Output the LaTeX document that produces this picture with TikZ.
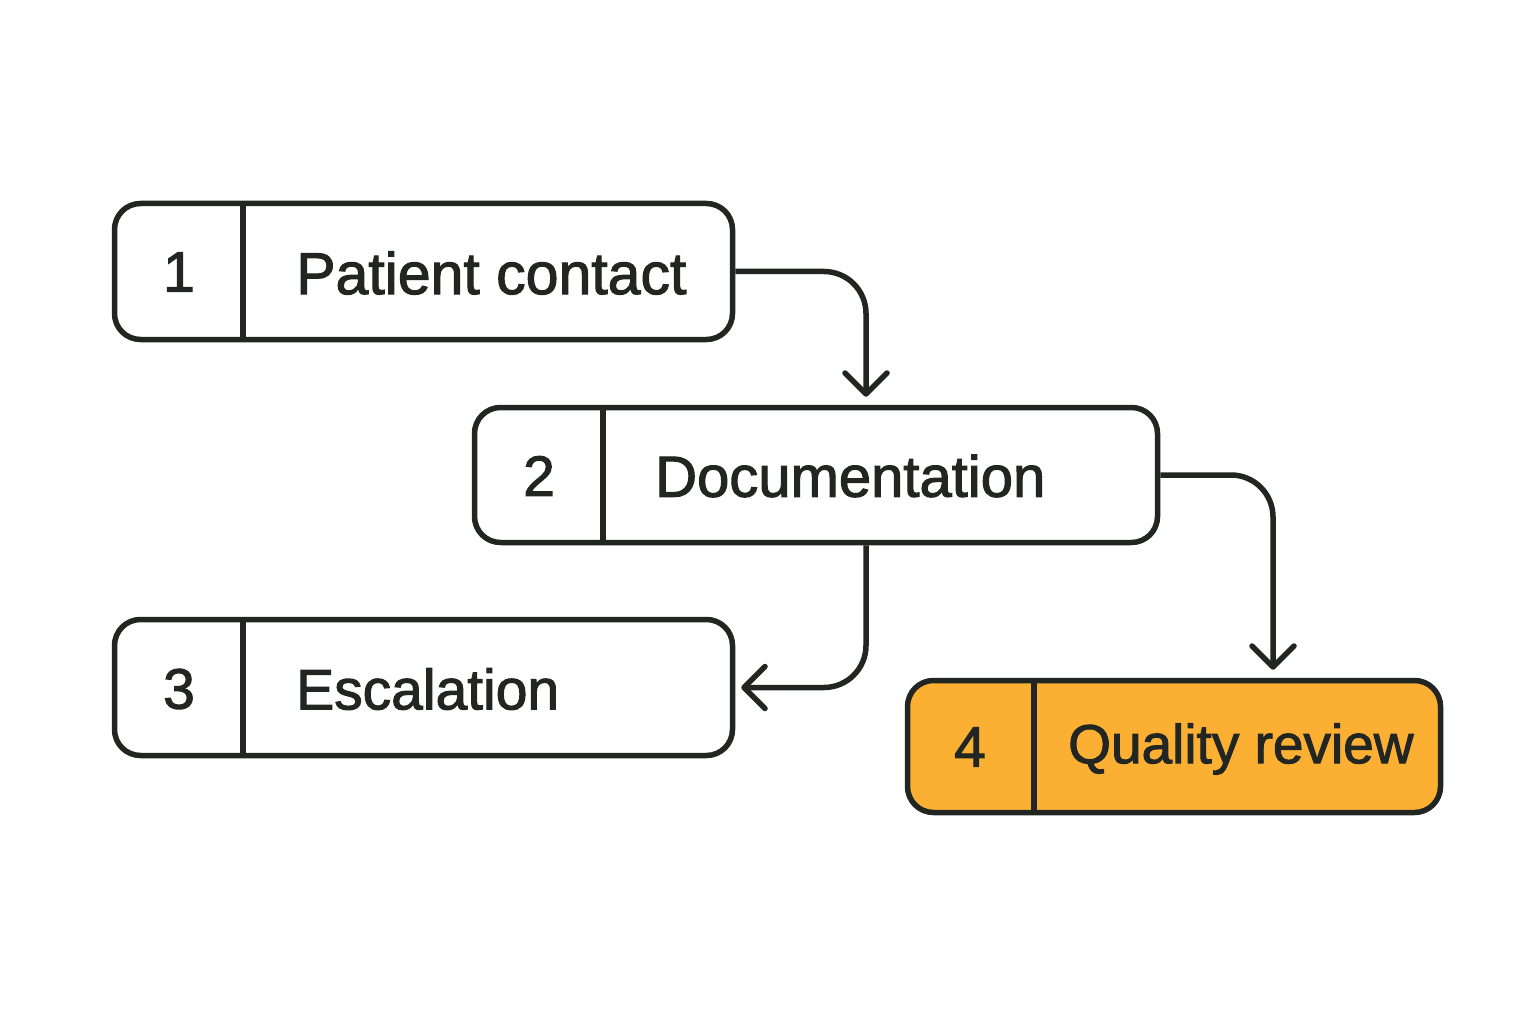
\documentclass[tikz,border=0pt]{standalone}
\usepackage{fontspec}
\setmainfont{Liberation Sans}
\newfontfamily\medfont[FakeBold=1.8]{Liberation Sans}
\usetikzlibrary{arrows.meta}
\definecolor{ink}{HTML}{222622}
\definecolor{amber}{HTML}{FBB034}
\begin{document}
\begin{tikzpicture}[x=1pt,y=-1pt,
  box/.style={draw=ink, line width=5.5pt, rounded corners=26pt, fill=white, inner sep=0pt},
  divider/.style={draw=ink, line width=5.5pt},
  num/.style={text=ink, font=\medfont\fontsize{57}{60}\selectfont, inner sep=0pt},
  lbl/.style={text=ink, inner sep=0pt, anchor=west},
  conn/.style={draw=ink, line width=5.5pt, rounded corners=42pt,
    -{Straight Barb[length=21pt, width=42pt, line cap=round, line join=round]}}
]
\useasboundingbox[fill=white] (0,0) rectangle (1536,1024);

% boxes
\node[box, minimum width=618pt, minimum height=136pt] (b1) at (423.5,271.5) {};
\node[box, minimum width=683pt, minimum height=135pt] (b2) at (816,475) {};
\node[box, minimum width=618pt, minimum height=136pt] (b3) at (423.5,687.5) {};
\node[box, fill=amber, minimum width=533pt, minimum height=132pt] (b4) at (1174,746.5) {};

% dividers
\draw[divider] ([xshift=131]b1.north west) -- ([xshift=131]b1.south west);
\draw[divider] ([xshift=131]b2.north west) -- ([xshift=131]b2.south west);
\draw[divider] ([xshift=131]b3.north west) -- ([xshift=131]b3.south west);
\draw[divider] ([xshift=129]b4.north west) -- ([xshift=129]b4.south west);

% numbers
\node[num] (n1) at (179,272) {1};
\node[num] (n2) at (539,476) {2};
\node[num] (n3) at (179,689) {3};
\node[num] (n4) at (970,747) {4};

% labels
\node[lbl, font=\medfont\fontsize{59}{62}\selectfont] (t1) at (296,273) {Patient contact};
\node[lbl, font=\medfont\fontsize{58}{61}\selectfont] (t2) at (655,476) {Documentation};
\node[lbl, font=\medfont\fontsize{57}{60}\selectfont] (t3) at (296,689) {Escalation};
\node[lbl, font=\medfont\fontsize{55}{58}\selectfont] (t4) at (1068,749) {Quality review};

% connectors
\draw[conn, shorten >=8pt] (b1.east) -| ([xshift=50]b2.north);
\draw[conn, shorten >=8pt] (b2.east) -| ([xshift=99]b4.north);
\draw[conn, shorten >=6pt] ([xshift=50]b2.south) |- (b3.east);
\end{tikzpicture}
\end{document}
